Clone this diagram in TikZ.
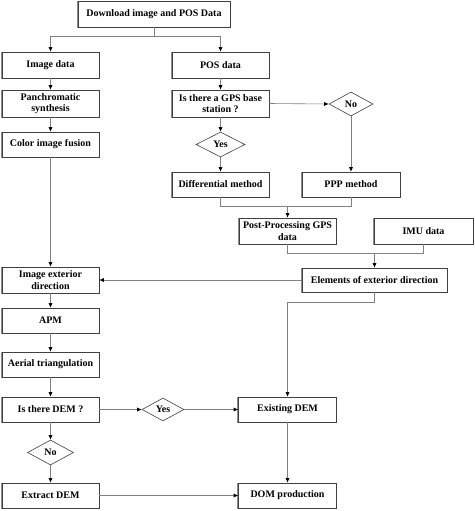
\documentclass[tikz,border=0pt]{standalone}
\usepackage{fontspec}
\setmainfont{Liberation Serif}
\usetikzlibrary{shapes.geometric,arrows.meta}
\begin{document}
\begin{tikzpicture}[x=1pt,y=-1pt,
  box/.style={draw=black!75, line width=0.6pt, fill=white, align=center, inner sep=1pt,
    font=\fontsize{10}{11.5}\selectfont\bfseries,
    preaction={draw=black!45, line width=1.2pt, transform canvas={xshift=-0.8pt,yshift=-0.6pt}}},
  dia/.style={draw=black!75, line width=0.6pt, diamond, inner sep=0pt, fill=white,
    font=\fontsize{10}{11.5}\selectfont\bfseries},
  conn/.style={draw=black!50, line width=0.6pt},
  arr/.style={conn, -{Latex[length=4.5pt,width=4pt,black]}}]
\useasboundingbox (0,0) rectangle (474,511);
% nodes
\node[box, minimum width=152pt, minimum height=26pt] (dl) at (154,14) {Download image and POS Data};
\node[box, minimum width=97pt, minimum height=26pt] (img) at (50.5,65) {Image data};
\node[box, minimum width=97pt, minimum height=26pt] (pos) at (220.5,65) {POS data};
\node[box, minimum width=97pt, minimum height=27pt] (pan) at (50.5,103.5) {Panchromatic\\synthesis};
\node[box, minimum width=97pt, minimum height=27pt] (gps) at (220.5,103.5) {Is there a GPS base\\station ?};
\node[dia, minimum width=44pt, minimum height=24pt] (no1) at (351,104) {No};
\node[box, minimum width=97pt, minimum height=25pt] (cif) at (50.5,144.5) {Color image fusion};
\node[dia, minimum width=49pt, minimum height=25pt] (yes1) at (220.5,144.5) {Yes};
\node[box, minimum width=97pt, minimum height=25pt] (diff) at (220.5,184.5) {Differential method};
\node[box, minimum width=98pt, minimum height=25pt] (ppp) at (351,184.5) {PPP method};
\node[box, minimum width=97pt, minimum height=26pt] (ppg) at (287.5,231) {Post-Processing GPS\\data};
\node[box, minimum width=99pt, minimum height=26pt] (imu) at (423.5,231) {IMU data};
\node[box, minimum width=145pt, minimum height=24pt] (eed) at (374.5,280) {Elements of exterior direction};
\node[box, minimum width=97pt, minimum height=26pt] (ied) at (50.5,280) {Image exterior\\direction};
\node[box, minimum width=97pt, minimum height=25pt] (apm) at (50.5,320.5) {APM};
\node[box, minimum width=97pt, minimum height=25pt] (at) at (50.5,364.5) {Aerial triangulation};
\node[box, minimum width=97pt, minimum height=25pt] (dem) at (50.5,409.5) {Is there DEM ?};
\node[dia, minimum width=42pt, minimum height=23pt] (yes2) at (163,409.5) {Yes};
\node[box, minimum width=98pt, minimum height=25pt] (exd) at (287.5,409.5) {Existing DEM};
\node[dia, minimum width=46pt, minimum height=25pt] (no2) at (50.5,452.5) {No};
\node[box, minimum width=97pt, minimum height=25pt] (ext) at (50.5,495.5) {Extract DEM};
\node[box, minimum width=98pt, minimum height=25pt] (dom) at (287.5,495.5) {DOM production};
% junctions
\coordinate (j1) at (154,36);
\coordinate (j2) at (287.5,206);
\coordinate (j3) at (374.5,253);
\coordinate (j4) at (287.5,302);
% connectors
\draw[conn] (dl.south) -- (j1);
\draw[arr] (j1) -| (img.north);
\draw[arr] (j1) -| (pos.north);
\draw[arr] (img) -- (pan);
\draw[arr] (pan) -- (cif);
\draw[arr] (cif) -- (ied);
\draw[arr] (pos) -- (gps);
\draw[arr] (gps) -- (yes1);
\draw[arr] (yes1) -- (diff);
\draw[arr] (gps.east) -- (no1.west);
\draw[arr] (no1.south) -- (ppp.north);
\draw[conn] (diff.south) |- (j2);
\draw[conn] (ppp.south) |- (j2);
\draw[arr] (j2) -- (ppg.north);
\draw[conn] (ppg.south) |- (j3);
\draw[conn] (imu.south) |- (j3);
\draw[arr] (j3) -- (eed.north);
\draw[arr] (eed.west) -- (ied.east);
\draw[conn] (eed.south) |- (j4);
\draw[arr] (j4) -- (exd.north);
\draw[arr] (ied) -- (apm);
\draw[arr] (apm) -- (at);
\draw[arr] (at) -- (dem);
\draw[arr] (dem) -- (no2);
\draw[arr] (no2) -- (ext);
\draw[arr] (dem.east) -- (yes2.west);
\draw[arr] (yes2.east) -- (exd.west);
\draw[arr] (exd) -- (dom);
\draw[arr] (ext.east) -- (dom.west);
\end{tikzpicture}
\end{document}
